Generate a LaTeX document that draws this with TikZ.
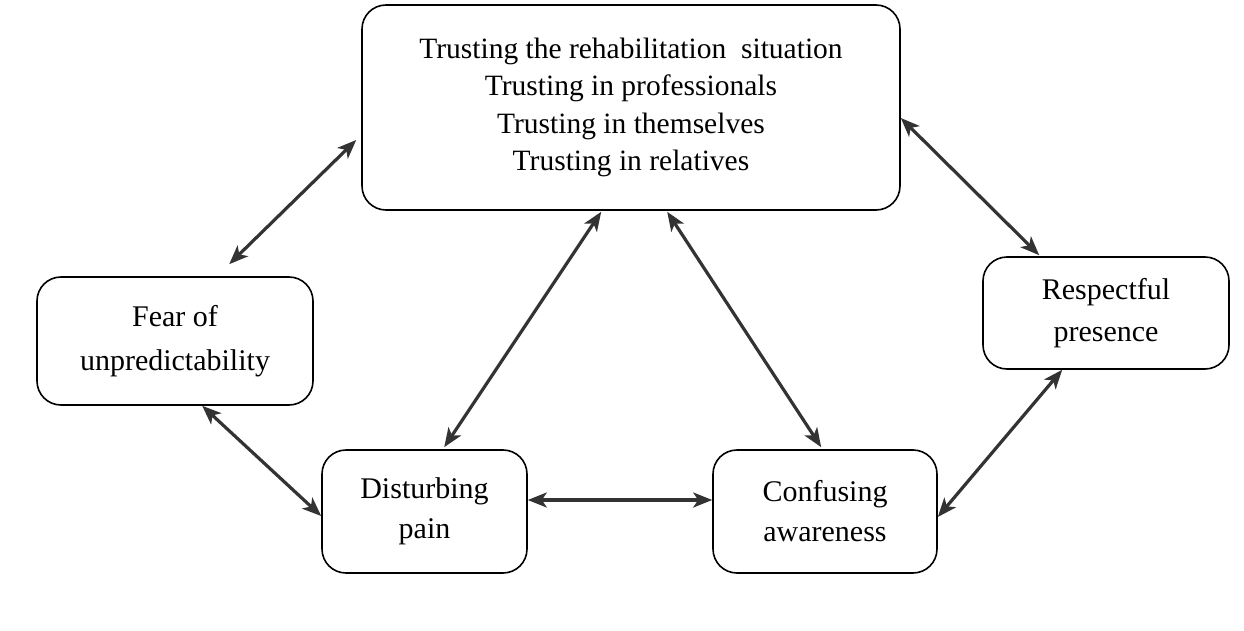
\documentclass[tikz,border=0pt]{standalone}
\usepackage{fontspec}
\setmainfont{Liberation Serif}
\usetikzlibrary{arrows.meta,calc}
\definecolor{arrowgray}{HTML}{333333}
\begin{document}
\begin{tikzpicture}[x=1pt,y=-1pt,
  box/.style={draw=black,line width=1.6pt,rounded corners=24pt,align=center,inner sep=0pt,
    font=\fontsize{30pt}{42pt}\selectfont},
  link/.style={draw=arrowgray,line width=3.2pt,{Stealth[length=19pt,width=15pt,inset=5pt]}-{Stealth[length=19pt,width=15pt,inset=5pt]}}]
\useasboundingbox[fill=white] (0,0) rectangle (1244,631);
\node[box,minimum width=538pt,minimum height=205pt,font=\fontsize{29.5pt}{37.5pt}\selectfont] (top) at (631,107.5)
  {Trusting the rehabilitation\ \ situation\\Trusting in professionals\\Trusting in themselves\\Trusting in relatives};
\node[box,minimum width=276pt,minimum height=128pt,font=\fontsize{30pt}{44pt}\selectfont] (fear) at (175,341) {Fear of\\unpredictability};
\node[box,minimum width=246pt,minimum height=112pt] (resp) at (1106,313) {Respectful\\presence};
\node[box,minimum width=205pt,minimum height=123pt,font=\fontsize{30pt}{40pt}\selectfont] (dist) at (424.5,511.5) {Disturbing\\pain};
\node[box,minimum width=224pt,minimum height=123pt,font=\fontsize{30pt}{40pt}\selectfont] (conf) at (825,511.5) {Confusing\\awareness};
\coordinate (a1) at ($(fear.north west)+(193,-12)$);
\coordinate (b1) at ($(top.west)+(-5,32.5)$);
\draw[link] (a1) -- (b1);
\coordinate (a2) at ($(fear.south west)+(166,0)$);
\coordinate (b2) at ($(dist.west)+(0,4.5)$);
\draw[link] (a2) -- (b2);
\coordinate (a3) at ($(dist.east)+(0,-11.5)$);
\coordinate (b3) at ($(conf.west)+(0,-11.5)$);
\draw[link] (a3) -- (b3);
\coordinate (a4) at ($(dist.north west)+(123,-2)$);
\coordinate (b4) at ($(top.south west)+(240,1)$);
\draw[link] (a4) -- (b4);
\coordinate (a5) at ($(conf.north west)+(109,-2)$);
\coordinate (b5) at ($(top.south west)+(306,1)$);
\draw[link] (a5) -- (b5);
\coordinate (a6) at ($(top.east)+(0,10.5)$);
\coordinate (b6) at ($(resp.north west)+(57,-1)$);
\draw[link] (a6) -- (b6);
\coordinate (a7) at ($(resp.south west)+(80,0)$);
\coordinate (b7) at ($(conf.east)+(0,5.5)$);
\draw[link] (a7) -- (b7);
\end{tikzpicture}
\end{document}
